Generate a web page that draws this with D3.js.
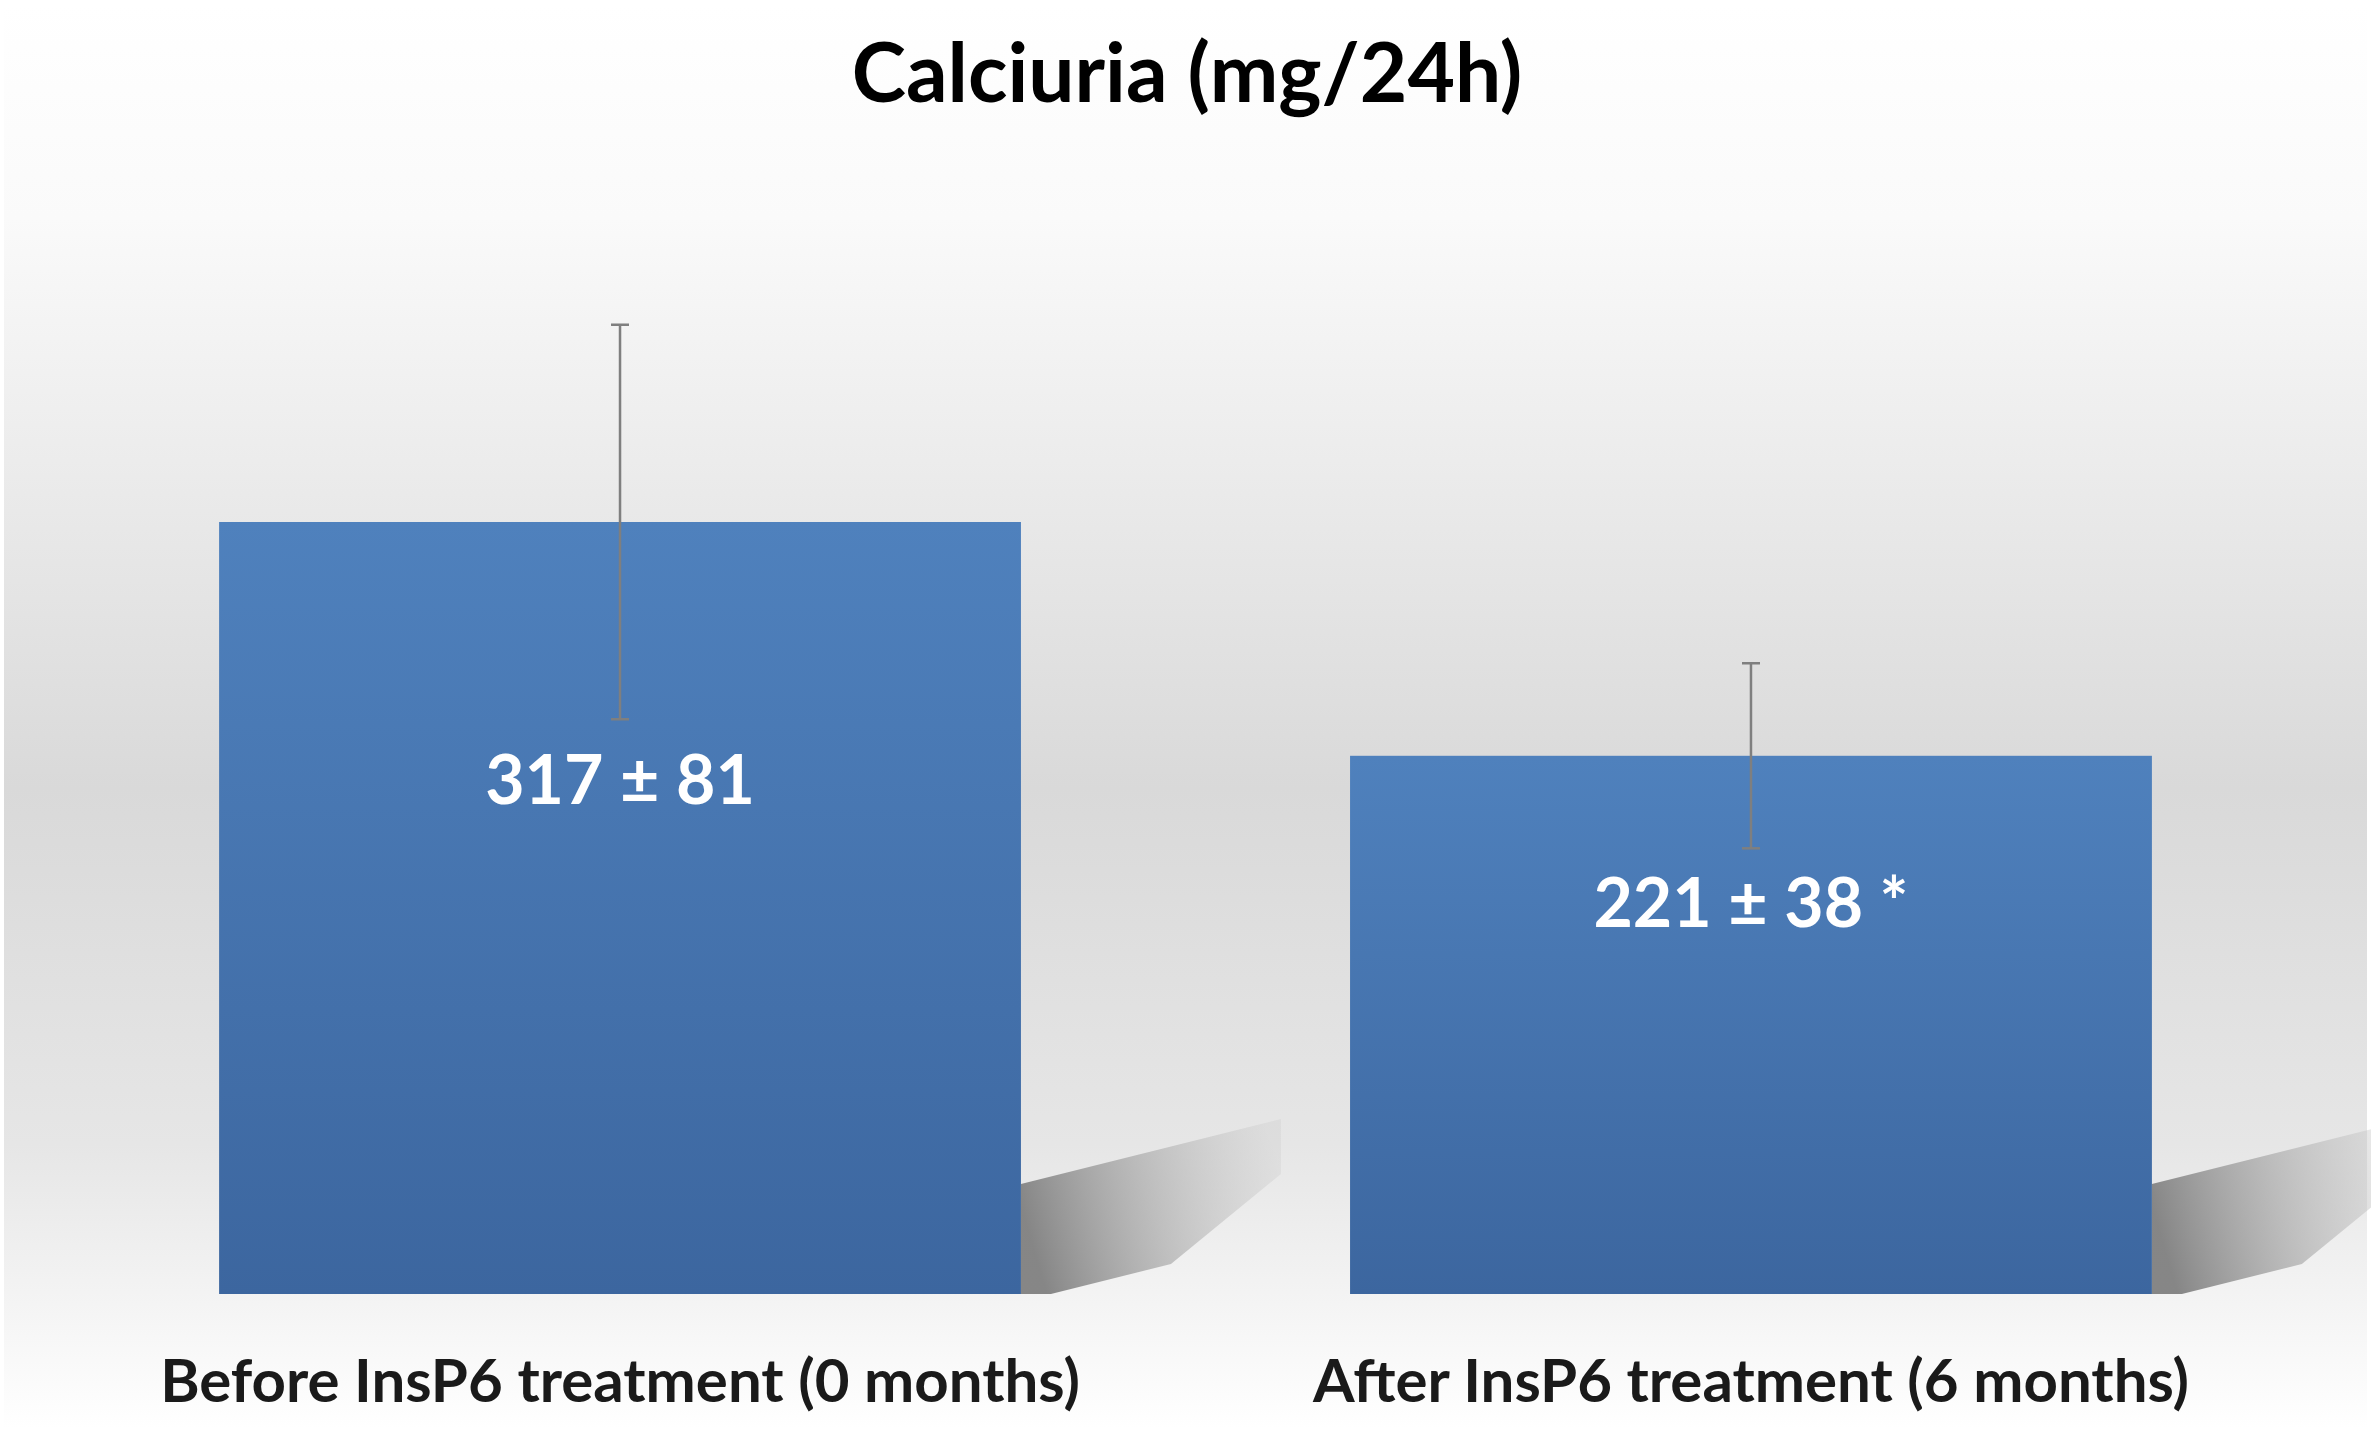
<!DOCTYPE html>
<html><head><meta charset="utf-8">
<script src="https://cdn.jsdelivr.net/npm/d3@7"></script>
<style>body{margin:0;background:#fff}svg{display:block}</style></head>
<body><script>
const categories=["Before InsP6 treatment (0 months)","After InsP6 treatment (6 months)"];
const means=[317,221];
const sds=[81,38];
const valueLabels=["317 ± 81","221 ± 38 *"];
const title="Calciuria (mg/24h)";

const W=2371,H=1433;
const svg=d3.select("body").append("svg").attr("width",W).attr("height",H);
const defs=svg.append("defs");
const bg=defs.append("linearGradient").attr("id","bg").attr("x1",0).attr("y1",0).attr("x2",0).attr("y2",1);
bg.append("stop").attr("offset","0%").attr("stop-color","#ffffff");
bg.append("stop").attr("offset","15%").attr("stop-color","#fafafa");
bg.append("stop").attr("offset","55%").attr("stop-color","#d9d9d9");
bg.append("stop").attr("offset","80%").attr("stop-color","#e6e6e6");
bg.append("stop").attr("offset","100%").attr("stop-color","#ffffff");
const bar=defs.append("linearGradient").attr("id","bar").attr("x1",0).attr("y1",0).attr("x2",0).attr("y2",1);
bar.append("stop").attr("offset","0%").attr("stop-color","#4f81bd");
bar.append("stop").attr("offset","100%").attr("stop-color","#3c669f");
const sh=defs.append("linearGradient").attr("id","sh").attr("x1",0).attr("y1",0.5).attr("x2",1).attr("y2",0.3);
sh.append("stop").attr("offset","0%").attr("stop-color","#7a7a7a").attr("stop-opacity",0.9);
sh.append("stop").attr("offset","100%").attr("stop-color","#c8c8c8").attr("stop-opacity",0.3);

svg.append("rect").attr("x",4).attr("y",4).attr("width",W-8).attr("height",H-8).attr("fill","url(#bg)");

const x=d3.scaleBand().domain(categories).range([106,2265]).paddingInner(0.291).paddingOuter(0.1);
const y=d3.scaleLinear().domain([0,317]).range([1294,522]);

categories.forEach((c,i)=>{
  const x0=x(c), x1=x0+x.bandwidth();
  svg.append("polygon").attr("points",`${x1},${y(0)} ${x1},${y(0)-110} ${x1+260},${y(0)-175} ${x1+260},${y(0)-120} ${x1+150},${y(0)-30} ${x1+30},${y(0)}`).attr("fill","url(#sh)");
});
svg.selectAll("rect.b").data(means).join("rect").attr("class","b")
 .attr("x",(d,i)=>x(categories[i])).attr("width",x.bandwidth())
 .attr("y",d=>y(d)).attr("height",d=>y(0)-y(d)).attr("fill","url(#bar)");

means.forEach((m,i)=>{
  const cx=x(categories[i])+x.bandwidth()/2;
  const g=svg.append("g").attr("stroke","#7f7f7f").attr("stroke-width",2.5);
  g.append("line").attr("x1",cx).attr("x2",cx).attr("y1",y(m+sds[i])).attr("y2",y(m-sds[i]));
  g.append("line").attr("x1",cx-9).attr("x2",cx+9).attr("y1",y(m+sds[i])).attr("y2",y(m+sds[i]));
  g.append("line").attr("x1",cx-9).attr("x2",cx+9).attr("y1",y(m-sds[i])).attr("y2",y(m-sds[i]));
});
svg.selectAll("text.v").data(valueLabels).join("text")
 .attr("x",(d,i)=>x(categories[i])+x.bandwidth()/2).attr("y",(d,i)=>i==0?804:927)
 .attr("text-anchor","middle").attr("fill","#fff").attr("font-family","Lato, 'Open Sans', sans-serif")
 .attr("font-weight","bold").attr("font-size",68).text(d=>d);
svg.selectAll("text.c").data(categories).join("text")
 .attr("x",(d)=>x(d)+x.bandwidth()/2).attr("y",1402)
 .attr("text-anchor","middle").attr("fill","#1a1a1a").attr("font-family","Lato, 'Open Sans', sans-serif")
 .attr("font-weight","bold").attr("font-size",60).text(d=>d);
svg.append("text").attr("x",1187).attr("y",102).attr("text-anchor","middle").attr("fill","#000")
 .attr("font-family","Lato, 'Open Sans', sans-serif").attr("font-weight","bold").attr("font-size",82).text(title);
</script></body></html>
